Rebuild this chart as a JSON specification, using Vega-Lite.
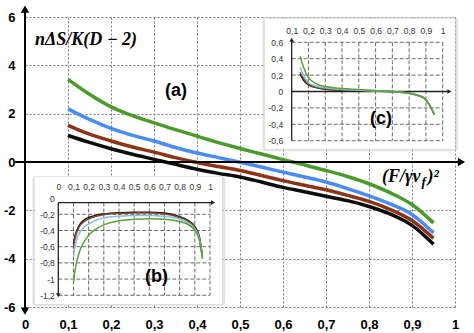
{
  "$schema": "https://vega.github.io/schema/vega-lite/v6.json",
  "width": 430,
  "height": 290,
  "autosize": {"type": "none"},
  "padding": {"left": 25, "top": 17, "right": 19, "bottom": 26},
  "background": "white",
  "config": {"view": {"stroke": null}},
  "datasets": {
    "main": [
      {"x": 0.1, "series": "s1", "y": 1.1}, {"x": 0.15, "series": "s1", "y": 0.81}, {"x": 0.2, "series": "s1", "y": 0.55}, {"x": 0.25, "series": "s1", "y": 0.32}, {"x": 0.3, "series": "s1", "y": 0.11}, {"x": 0.35, "series": "s1", "y": -0.1}, {"x": 0.4, "series": "s1", "y": -0.3}, {"x": 0.45, "series": "s1", "y": -0.47}, {"x": 0.5, "series": "s1", "y": -0.62}, {"x": 0.55, "series": "s1", "y": -0.83}, {"x": 0.6, "series": "s1", "y": -1.05}, {"x": 0.65, "series": "s1", "y": -1.23}, {"x": 0.7, "series": "s1", "y": -1.42}, {"x": 0.75, "series": "s1", "y": -1.6}, {"x": 0.8, "series": "s1", "y": -1.84}, {"x": 0.85, "series": "s1", "y": -2.16}, {"x": 0.9, "series": "s1", "y": -2.62}, {"x": 0.95, "series": "s1", "y": -3.4},
      {"x": 0.1, "series": "s2", "y": 1.52}, {"x": 0.15, "series": "s2", "y": 1.15}, {"x": 0.2, "series": "s2", "y": 0.87}, {"x": 0.25, "series": "s2", "y": 0.62}, {"x": 0.3, "series": "s2", "y": 0.41}, {"x": 0.35, "series": "s2", "y": 0.18}, {"x": 0.4, "series": "s2", "y": -0.02}, {"x": 0.45, "series": "s2", "y": -0.19}, {"x": 0.5, "series": "s2", "y": -0.35}, {"x": 0.55, "series": "s2", "y": -0.56}, {"x": 0.6, "series": "s2", "y": -0.77}, {"x": 0.65, "series": "s2", "y": -0.96}, {"x": 0.7, "series": "s2", "y": -1.15}, {"x": 0.75, "series": "s2", "y": -1.38}, {"x": 0.8, "series": "s2", "y": -1.63}, {"x": 0.85, "series": "s2", "y": -1.97}, {"x": 0.9, "series": "s2", "y": -2.42}, {"x": 0.95, "series": "s2", "y": -3.16},
      {"x": 0.1, "series": "s3", "y": 2.2}, {"x": 0.15, "series": "s3", "y": 1.76}, {"x": 0.2, "series": "s3", "y": 1.39}, {"x": 0.25, "series": "s3", "y": 1.1}, {"x": 0.3, "series": "s3", "y": 0.87}, {"x": 0.35, "series": "s3", "y": 0.6}, {"x": 0.4, "series": "s3", "y": 0.37}, {"x": 0.45, "series": "s3", "y": 0.18}, {"x": 0.5, "series": "s3", "y": -0.01}, {"x": 0.55, "series": "s3", "y": -0.21}, {"x": 0.6, "series": "s3", "y": -0.42}, {"x": 0.65, "series": "s3", "y": -0.62}, {"x": 0.7, "series": "s3", "y": -0.83}, {"x": 0.75, "series": "s3", "y": -1.1}, {"x": 0.8, "series": "s3", "y": -1.4}, {"x": 0.85, "series": "s3", "y": -1.74}, {"x": 0.9, "series": "s3", "y": -2.17}, {"x": 0.95, "series": "s3", "y": -2.93},
      {"x": 0.1, "series": "s4", "y": 3.42}, {"x": 0.15, "series": "s4", "y": 2.8}, {"x": 0.2, "series": "s4", "y": 2.28}, {"x": 0.25, "series": "s4", "y": 1.92}, {"x": 0.3, "series": "s4", "y": 1.62}, {"x": 0.35, "series": "s4", "y": 1.34}, {"x": 0.4, "series": "s4", "y": 1.07}, {"x": 0.45, "series": "s4", "y": 0.8}, {"x": 0.5, "series": "s4", "y": 0.56}, {"x": 0.55, "series": "s4", "y": 0.33}, {"x": 0.6, "series": "s4", "y": 0.1}, {"x": 0.65, "series": "s4", "y": -0.12}, {"x": 0.7, "series": "s4", "y": -0.35}, {"x": 0.75, "series": "s4", "y": -0.6}, {"x": 0.8, "series": "s4", "y": -0.9}, {"x": 0.85, "series": "s4", "y": -1.28}, {"x": 0.9, "series": "s4", "y": -1.76}, {"x": 0.95, "series": "s4", "y": -2.52}
    ],
    "insetB": [
      {"x": 0.1, "series": "s1", "y": -0.57}, {"x": 0.11, "series": "s1", "y": -0.47}, {"x": 0.12, "series": "s1", "y": -0.41}, {"x": 0.14, "series": "s1", "y": -0.33}, {"x": 0.17, "series": "s1", "y": -0.27}, {"x": 0.2, "series": "s1", "y": -0.24}, {"x": 0.25, "series": "s1", "y": -0.21}, {"x": 0.3, "series": "s1", "y": -0.195}, {"x": 0.4, "series": "s1", "y": -0.18}, {"x": 0.5, "series": "s1", "y": -0.175}, {"x": 0.6, "series": "s1", "y": -0.175}, {"x": 0.7, "series": "s1", "y": -0.185}, {"x": 0.8, "series": "s1", "y": -0.23}, {"x": 0.85, "series": "s1", "y": -0.27}, {"x": 0.9, "series": "s1", "y": -0.35}, {"x": 0.93, "series": "s1", "y": -0.48}, {"x": 0.95, "series": "s1", "y": -0.72},
      {"x": 0.1, "series": "s2", "y": -0.62}, {"x": 0.11, "series": "s2", "y": -0.5}, {"x": 0.12, "series": "s2", "y": -0.43}, {"x": 0.14, "series": "s2", "y": -0.35}, {"x": 0.17, "series": "s2", "y": -0.29}, {"x": 0.2, "series": "s2", "y": -0.26}, {"x": 0.25, "series": "s2", "y": -0.225}, {"x": 0.3, "series": "s2", "y": -0.205}, {"x": 0.4, "series": "s2", "y": -0.19}, {"x": 0.5, "series": "s2", "y": -0.185}, {"x": 0.6, "series": "s2", "y": -0.185}, {"x": 0.7, "series": "s2", "y": -0.195}, {"x": 0.8, "series": "s2", "y": -0.24}, {"x": 0.85, "series": "s2", "y": -0.28}, {"x": 0.9, "series": "s2", "y": -0.36}, {"x": 0.93, "series": "s2", "y": -0.49}, {"x": 0.95, "series": "s2", "y": -0.72},
      {"x": 0.1, "series": "s3", "y": -0.73}, {"x": 0.11, "series": "s3", "y": -0.6}, {"x": 0.12, "series": "s3", "y": -0.52}, {"x": 0.14, "series": "s3", "y": -0.43}, {"x": 0.17, "series": "s3", "y": -0.36}, {"x": 0.2, "series": "s3", "y": -0.32}, {"x": 0.25, "series": "s3", "y": -0.27}, {"x": 0.3, "series": "s3", "y": -0.245}, {"x": 0.4, "series": "s3", "y": -0.225}, {"x": 0.5, "series": "s3", "y": -0.215}, {"x": 0.6, "series": "s3", "y": -0.215}, {"x": 0.7, "series": "s3", "y": -0.225}, {"x": 0.8, "series": "s3", "y": -0.26}, {"x": 0.85, "series": "s3", "y": -0.3}, {"x": 0.9, "series": "s3", "y": -0.38}, {"x": 0.93, "series": "s3", "y": -0.5}, {"x": 0.95, "series": "s3", "y": -0.73},
      {"x": 0.1, "series": "s4", "y": -1.05}, {"x": 0.11, "series": "s4", "y": -0.9}, {"x": 0.12, "series": "s4", "y": -0.8}, {"x": 0.14, "series": "s4", "y": -0.66}, {"x": 0.17, "series": "s4", "y": -0.54}, {"x": 0.2, "series": "s4", "y": -0.46}, {"x": 0.25, "series": "s4", "y": -0.38}, {"x": 0.3, "series": "s4", "y": -0.33}, {"x": 0.4, "series": "s4", "y": -0.28}, {"x": 0.5, "series": "s4", "y": -0.26}, {"x": 0.6, "series": "s4", "y": -0.255}, {"x": 0.7, "series": "s4", "y": -0.26}, {"x": 0.8, "series": "s4", "y": -0.29}, {"x": 0.85, "series": "s4", "y": -0.32}, {"x": 0.9, "series": "s4", "y": -0.4}, {"x": 0.93, "series": "s4", "y": -0.52}, {"x": 0.95, "series": "s4", "y": -0.75}
    ],
    "insetC": [
      {"x": 0.15, "series": "s1", "y": 0.215}, {"x": 0.17, "series": "s1", "y": 0.14}, {"x": 0.2, "series": "s1", "y": 0.08}, {"x": 0.25, "series": "s1", "y": 0.045}, {"x": 0.3, "series": "s1", "y": 0.028}, {"x": 0.4, "series": "s1", "y": 0.016}, {"x": 0.5, "series": "s1", "y": 0.01}, {"x": 0.6, "series": "s1", "y": 0.004}, {"x": 0.7, "series": "s1", "y": -0.003}, {"x": 0.8, "series": "s1", "y": -0.02}, {"x": 0.85, "series": "s1", "y": -0.045}, {"x": 0.9, "series": "s1", "y": -0.1}, {"x": 0.95, "series": "s1", "y": -0.28},
      {"x": 0.15, "series": "s2", "y": 0.235}, {"x": 0.17, "series": "s2", "y": 0.16}, {"x": 0.2, "series": "s2", "y": 0.09}, {"x": 0.25, "series": "s2", "y": 0.05}, {"x": 0.3, "series": "s2", "y": 0.033}, {"x": 0.4, "series": "s2", "y": 0.02}, {"x": 0.5, "series": "s2", "y": 0.012}, {"x": 0.6, "series": "s2", "y": 0.005}, {"x": 0.7, "series": "s2", "y": -0.003}, {"x": 0.8, "series": "s2", "y": -0.02}, {"x": 0.85, "series": "s2", "y": -0.045}, {"x": 0.9, "series": "s2", "y": -0.1}, {"x": 0.95, "series": "s2", "y": -0.28},
      {"x": 0.15, "series": "s3", "y": 0.3}, {"x": 0.17, "series": "s3", "y": 0.2}, {"x": 0.2, "series": "s3", "y": 0.11}, {"x": 0.25, "series": "s3", "y": 0.065}, {"x": 0.3, "series": "s3", "y": 0.045}, {"x": 0.4, "series": "s3", "y": 0.025}, {"x": 0.5, "series": "s3", "y": 0.015}, {"x": 0.6, "series": "s3", "y": 0.007}, {"x": 0.7, "series": "s3", "y": -0.002}, {"x": 0.8, "series": "s3", "y": -0.02}, {"x": 0.85, "series": "s3", "y": -0.045}, {"x": 0.9, "series": "s3", "y": -0.1}, {"x": 0.95, "series": "s3", "y": -0.28},
      {"x": 0.15, "series": "s4", "y": 0.43}, {"x": 0.17, "series": "s4", "y": 0.3}, {"x": 0.2, "series": "s4", "y": 0.17}, {"x": 0.25, "series": "s4", "y": 0.09}, {"x": 0.3, "series": "s4", "y": 0.06}, {"x": 0.4, "series": "s4", "y": 0.037}, {"x": 0.5, "series": "s4", "y": 0.025}, {"x": 0.6, "series": "s4", "y": 0.012}, {"x": 0.7, "series": "s4", "y": 0.0}, {"x": 0.8, "series": "s4", "y": -0.02}, {"x": 0.85, "series": "s4", "y": -0.045}, {"x": 0.9, "series": "s4", "y": -0.1}, {"x": 0.95, "series": "s4", "y": -0.28}
    ],
    "gridBx": [{"v": 0.1}, {"v": 0.2}, {"v": 0.3}, {"v": 0.4}, {"v": 0.5}, {"v": 0.6}, {"v": 0.7}, {"v": 0.8}, {"v": 0.9}, {"v": 1}],
    "gridBy": [{"v": -0.2}, {"v": -0.4}, {"v": -0.6}, {"v": -0.8}, {"v": -1}, {"v": -1.2}],
    "gridCx": [{"v": 0.2}, {"v": 0.3}, {"v": 0.4}, {"v": 0.5}, {"v": 0.6}, {"v": 0.7}, {"v": 0.8}, {"v": 0.9}, {"v": 1}],
    "gridCy": [{"v": 0.6}, {"v": 0.4}, {"v": 0.2}, {"v": -0.2}, {"v": -0.4}, {"v": -0.6}]
  },
  "layer": [
    {
      "layer": [
        {
          "data": {"name": "main"},
          "mark": {"type": "line", "strokeWidth": 3.5, "interpolate": "monotone"},
          "encoding": {
            "x": {"field": "x", "type": "quantitative", "scale": {"domain": [0, 1], "nice": false, "zero": false},
              "axis": {"orient": "bottom", "values": [0, 0.1, 0.2, 0.3, 0.4, 0.5, 0.6, 0.7, 0.8, 0.9, 1], "labelExpr": "replace(toString(datum.value), '.', ',')", "labelFont": "Liberation Sans", "labelFontWeight": "bold", "labelFontSize": 13, "labelColor": "black", "labelPadding": 11, "labelFlush": false, "labelOverlap": false, "domain": false, "ticks": false, "grid": true, "gridColor": "#777777", "gridDash": [2, 2], "gridWidth": 1, "title": null}},
            "y": {"field": "y", "type": "quantitative", "scale": {"domain": [-6, 6], "nice": false, "zero": false},
              "axis": {"orient": "left", "values": [-6, -4, -2, 0, 2, 4, 6], "labelExpr": "toString(datum.value)", "labelFont": "Liberation Sans", "labelFontWeight": "bold", "labelFontSize": 13, "labelColor": "black", "labelPadding": 10, "labelFlush": false, "labelOverlap": false, "domain": false, "ticks": false, "grid": true, "gridColor": "#777777", "gridDash": [2, 2], "gridWidth": 1, "title": null}},
            "color": {"field": "series", "type": "nominal", "scale": {"domain": ["s1", "s2", "s3", "s4"], "range": ["#0d0d0d", "#8c3415", "#4a8cf5", "#4a9b2b"]}, "legend": null}
          }
        },
        {
          "data": {"values": [{}]},
          "mark": {"type": "rule", "color": "black", "strokeWidth": 2},
          "encoding": {"x": {"datum": 0}, "y": {"datum": -6.15}, "y2": {"datum": 6.3}}
        },
        {
          "data": {"values": [{}]},
          "mark": {"type": "rule", "color": "black", "strokeWidth": 2},
          "encoding": {"y": {"datum": 0}, "x": {"datum": -0.023}, "x2": {"datum": 1.015}}
        },
        {
          "data": {"values": [{}]},
          "mark": {"type": "point", "shape": "triangle-up", "filled": true, "color": "black", "size": 70, "opacity": 1},
          "encoding": {"x": {"datum": 0}, "y": {"datum": 6.33}}
        },
        {
          "data": {"values": [{}]},
          "mark": {"type": "point", "shape": "triangle-down", "filled": true, "color": "black", "size": 70, "opacity": 1},
          "encoding": {"x": {"datum": 0}, "y": {"datum": -6.17}}
        },
        {
          "data": {"values": [{}]},
          "mark": {"type": "point", "shape": "triangle-right", "filled": true, "color": "black", "size": 70, "opacity": 1},
          "encoding": {"x": {"datum": 1.015}, "y": {"datum": 0}}
        },
        {
          "data": {"values": [{}]},
          "mark": {"type": "text", "text": "nΔS/K(D − 2)", "font": "Liberation Serif", "fontSize": 18, "fontWeight": "bold", "fontStyle": "italic", "align": "left", "baseline": "middle", "color": "black"},
          "encoding": {"x": {"datum": 0.023}, "y": {"datum": 5.05}}
        },
        {
          "data": {"values": [{}]},
          "mark": {"type": "text", "text": "(a)", "font": "Liberation Sans", "fontSize": 18, "fontWeight": "bold", "align": "center", "baseline": "middle", "color": "black"},
          "encoding": {"x": {"datum": 0.351}, "y": {"datum": 2.94}}
        },
        {
          "data": {"values": [{}]},
          "mark": {"type": "text", "text": "(F/γv", "font": "Liberation Serif", "fontSize": 18, "fontWeight": "bold", "fontStyle": "italic", "align": "left", "baseline": "middle", "color": "black"},
          "encoding": {"x": {"datum": 0.83}, "y": {"datum": -0.6}}
        },
        {
          "data": {"values": [{}]},
          "mark": {"type": "text", "text": "f", "font": "Liberation Serif", "fontSize": 13, "fontWeight": "bold", "fontStyle": "italic", "align": "left", "baseline": "middle", "color": "black"},
          "encoding": {"x": {"datum": 0.922}, "y": {"datum": -0.82}}
        },
        {
          "data": {"values": [{}]},
          "mark": {"type": "text", "text": ")²", "font": "Liberation Serif", "fontSize": 18, "fontWeight": "bold", "fontStyle": "italic", "align": "left", "baseline": "middle", "color": "black"},
          "encoding": {"x": {"datum": 0.936}, "y": {"datum": -0.6}}
        }
      ]
    },
    {
      "layer": [
        {
          "data": {"values": [{}]},
          "mark": {"type": "rect", "fill": "#c8c8c8", "opacity": 0.55, "cornerRadius": 3},
          "encoding": {
            "x": {"datum": -0.17, "type": "quantitative", "scale": {"domain": [0, 1], "range": [33.3, 185], "nice": false, "zero": false}},
            "x2": {"datum": 1.1},
            "y": {"datum": 0.27, "type": "quantitative", "scale": {"domain": [-1.2, 0], "range": [278.3, 181.1], "nice": false, "zero": false}},
            "y2": {"datum": -1.33}
          }
        },
        {
          "data": {"values": [{}]},
          "mark": {"type": "rect", "fill": "white"},
          "encoding": {"x": {"datum": -0.154}, "x2": {"datum": 1.079}, "y": {"datum": 0.26}, "y2": {"datum": -1.307}}
        },
        {
          "data": {"name": "gridBx"},
          "mark": {"type": "rule", "color": "#444", "strokeWidth": 0.8, "strokeDash": [4, 2]},
          "encoding": {"x": {"field": "v", "type": "quantitative"}, "y": {"datum": -0.055}, "y2": {"datum": -1.2}}
        },
        {
          "data": {"name": "gridBy"},
          "mark": {"type": "rule", "color": "#444", "strokeWidth": 0.8, "strokeDash": [4, 2]},
          "encoding": {"y": {"field": "v", "type": "quantitative"}, "x": {"datum": 0}, "x2": {"datum": 1}}
        },
        {
          "data": {"values": [{}]},
          "mark": {"type": "rule", "color": "#222", "strokeWidth": 1.3},
          "encoding": {"x": {"datum": 0}, "y": {"datum": -0.055}, "y2": {"datum": -1.2}}
        },
        {
          "data": {"values": [{}]},
          "mark": {"type": "rule", "color": "#222", "strokeWidth": 1.3},
          "encoding": {"y": {"datum": -0.055}, "x": {"datum": 0}, "x2": {"datum": 1.02}}
        },
        {
          "data": {"values": [{}]},
          "mark": {"type": "point", "shape": "triangle-right", "filled": true, "color": "#222", "size": 22, "opacity": 1},
          "encoding": {"x": {"datum": 1.02}, "y": {"datum": -0.055}}
        },
        {
          "data": {"values": [{}]},
          "mark": {"type": "point", "shape": "triangle-down", "filled": true, "color": "#222", "size": 22, "opacity": 1},
          "encoding": {"x": {"datum": 0}, "y": {"datum": -1.2}}
        },
        {
          "data": {"name": "insetB"},
          "mark": {"type": "line", "strokeWidth": 1.5, "interpolate": "monotone"},
          "encoding": {
            "x": {"field": "x", "type": "quantitative",
              "axis": {"orient": "top", "offset": -181.1, "values": [0, 0.1, 0.2, 0.3, 0.4, 0.5, 0.6, 0.7, 0.8, 0.9, 1], "labelExpr": "replace(toString(datum.value), '.', ',')", "labelFont": "Liberation Sans", "labelFontSize": 8.5, "labelColor": "#333", "labelPadding": 7, "labelFlush": false, "labelOverlap": false, "domain": false, "ticks": false, "grid": false, "title": null, "zindex": 1}},
            "y": {"field": "y", "type": "quantitative",
              "axis": {"orient": "left", "offset": -33.3, "values": [0, -0.2, -0.4, -0.6, -0.8, -1, -1.2], "labelExpr": "replace(toString(datum.value), '.', ',')", "labelFont": "Liberation Sans", "labelFontSize": 8.5, "labelColor": "#333", "labelPadding": 4, "labelFlush": false, "labelOverlap": false, "domain": false, "ticks": false, "grid": false, "title": null, "zindex": 1}},
            "color": {"field": "series", "type": "nominal", "scale": {"domain": ["s1", "s2", "s3", "s4"], "range": ["#111111", "#8a4a2e", "#86bde8", "#58a332"]}, "legend": null}
          }
        },
        {
          "data": {"values": [{}]},
          "mark": {"type": "text", "text": "(b)", "font": "Liberation Sans", "fontSize": 18, "fontWeight": "bold", "align": "center", "baseline": "middle", "color": "black"},
          "encoding": {"x": {"datum": 0.647}, "y": {"datum": -0.974}}
        }
      ]
    },
    {
      "layer": [
        {
          "data": {"values": [{}]},
          "mark": {"type": "rect", "fill": "#c8c8c8", "opacity": 0.55, "cornerRadius": 3},
          "encoding": {
            "x": {"datum": -0.075, "type": "quantitative", "scale": {"domain": [0.1, 1], "range": [266.7, 417.7], "nice": false, "zero": false}},
            "x2": {"datum": 1.09},
            "y": {"datum": 0.91, "type": "quantitative", "scale": {"domain": [-0.6, 0.6], "range": [123.7, 25.3], "nice": false, "zero": false}},
            "y2": {"datum": -0.73}
          }
        },
        {
          "data": {"values": [{}]},
          "mark": {"type": "rect", "fill": "white"},
          "encoding": {"x": {"datum": -0.059}, "x2": {"datum": 1.072}, "y": {"datum": 0.887}, "y2": {"datum": -0.699}}
        },
        {
          "data": {"name": "gridCx"},
          "mark": {"type": "rule", "color": "#444", "strokeWidth": 0.8, "strokeDash": [4, 2]},
          "encoding": {"x": {"field": "v", "type": "quantitative"}, "y": {"datum": 0.6}, "y2": {"datum": -0.6}}
        },
        {
          "data": {"name": "gridCy"},
          "mark": {"type": "rule", "color": "#444", "strokeWidth": 0.8, "strokeDash": [4, 2]},
          "encoding": {"y": {"field": "v", "type": "quantitative"}, "x": {"datum": 0.1}, "x2": {"datum": 1}}
        },
        {
          "data": {"values": [{}]},
          "mark": {"type": "rule", "color": "#222", "strokeWidth": 1.3},
          "encoding": {"x": {"datum": 0.1}, "y": {"datum": -0.6}, "y2": {"datum": 0.63}}
        },
        {
          "data": {"values": [{}]},
          "mark": {"type": "rule", "color": "#222", "strokeWidth": 1.3},
          "encoding": {"y": {"datum": 0}, "x": {"datum": 0.1}, "x2": {"datum": 1.04}}
        },
        {
          "data": {"values": [{}]},
          "mark": {"type": "point", "shape": "triangle-right", "filled": true, "color": "#222", "size": 22, "opacity": 1},
          "encoding": {"x": {"datum": 1.04}, "y": {"datum": 0}}
        },
        {
          "data": {"values": [{}]},
          "mark": {"type": "point", "shape": "triangle-up", "filled": true, "color": "#222", "size": 22, "opacity": 1},
          "encoding": {"x": {"datum": 0.1}, "y": {"datum": 0.63}}
        },
        {
          "data": {"name": "insetC"},
          "mark": {"type": "line", "strokeWidth": 1.5, "interpolate": "monotone"},
          "encoding": {
            "x": {"field": "x", "type": "quantitative",
              "axis": {"orient": "top", "offset": -25.3, "values": [0.1, 0.2, 0.3, 0.4, 0.5, 0.6, 0.7, 0.8, 0.9, 1], "labelExpr": "replace(toString(datum.value), '.', ',')", "labelFont": "Liberation Sans", "labelFontSize": 8.5, "labelColor": "#333", "labelPadding": 7, "labelFlush": false, "labelOverlap": false, "domain": false, "ticks": false, "grid": false, "title": null, "zindex": 1}},
            "y": {"field": "y", "type": "quantitative",
              "axis": {"orient": "left", "offset": -266.7, "values": [0.6, 0.4, 0.2, 0, -0.2, -0.4, -0.6], "labelExpr": "replace(toString(datum.value), '.', ',')", "labelFont": "Liberation Sans", "labelFontSize": 8.5, "labelColor": "#333", "labelPadding": 9, "labelFlush": false, "labelOverlap": false, "domain": false, "ticks": false, "grid": false, "title": null, "zindex": 1}},
            "color": {"field": "series", "type": "nominal", "scale": {"domain": ["s1", "s2", "s3", "s4"], "range": ["#111111", "#8a4a2e", "#86bde8", "#58a332"]}, "legend": null}
          }
        },
        {
          "data": {"values": [{}]},
          "mark": {"type": "text", "text": "(c)", "font": "Liberation Sans", "fontSize": 18, "fontWeight": "bold", "align": "center", "baseline": "middle", "color": "black"},
          "encoding": {"x": {"datum": 0.632}, "y": {"datum": -0.333}}
        }
      ]
    }
  ],
  "resolve": {"scale": {"x": "independent", "y": "independent", "color": "independent"}}
}
